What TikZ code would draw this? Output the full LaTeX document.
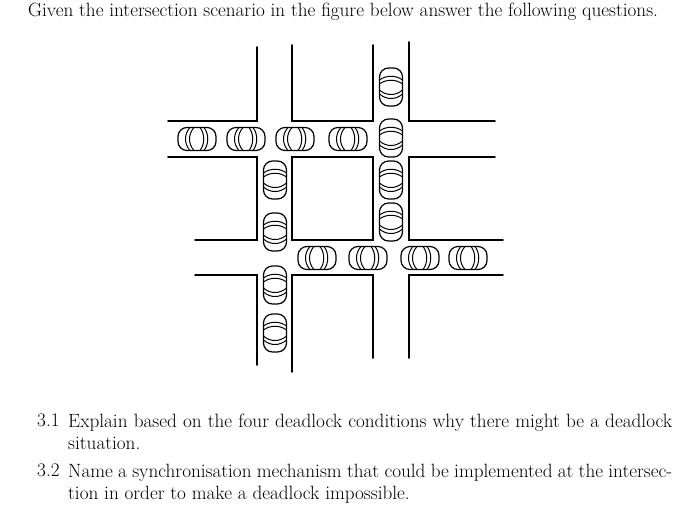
\documentclass[tikz,border=0pt]{standalone}
\begin{document}
\begin{tikzpicture}[x=1pt,y=-1pt,
  road/.style={line width=1.6pt,line cap=round},
  carbody/.style={line width=1.2pt,rounded corners=9pt},
  txt/.style={font=\fontsize{19.2}{21.5}\selectfont,inner sep=0pt}]
\useasboundingbox (0,0) rectangle (700,509);
\tikzset{car/.pic={
  \draw[carbody] (-19,-11.5) rectangle (19,11.5);
  \draw[line width=1pt] (-7,-11.5) .. controls (-13,-5) and (-13,5) .. (-7,11.5);
  \draw[line width=1pt] (-3,-11.5) .. controls (-9,-5) and (-9,5) .. (-3,11.5);
  \draw[line width=1pt] (7,-11.5) .. controls (12,-5) and (12,5) .. (7,11.5);
  \draw[line width=1pt] (3,-11.5) .. controls (8,-5) and (8,5) .. (3,11.5);
}}
\node[txt,anchor=west] (title) at (28,12) {Given the intersection scenario in the figure below answer the following questions.};
% roads
\draw[road] (257,47) -- (257,121) -- (168,121);
\draw[road] (292,45) -- (292,121) -- (373,121) -- (373,45);
\draw[road] (409,42) -- (409,121) -- (495,121);
\draw[road] (168,157) -- (257,157) -- (257,240) -- (195,240);
\draw[road] (292,157) rectangle (373,240);
\draw[road] (495,157) -- (409,157) -- (409,240) -- (503,240);
\draw[road] (195,275) -- (257,275) -- (257,365);
\draw[road] (292,372) -- (292,275) -- (373,275) -- (373,358);
\draw[road] (409,358) -- (409,275) -- (503,275);
% cars
\foreach \x in {197,246,295,348} \pic at (\x,139) {car};
\foreach \x in {317,368,420,468} \pic at (\x,258) {car};
\foreach \y in {87,138,180,222} \pic[rotate=90] at (391,\y) {car};
\foreach \y in {180,232,285,333} \pic[rotate=90] at (275,\y) {car};
% questions
\node[txt,anchor=north west] (n1) at (37,414) {3.1};
\node[txt,anchor=north west,text width=604pt,align=justify] (q1) at (68,414) {Explain based on the four deadlock conditions why there might be a deadlock situation.};
\node[txt,anchor=north west] (n2) at (37,464) {3.2};
\node[txt,anchor=north west,text width=604pt,align=justify] (q2) at (68,464) {Name a synchronisation mechanism that could be implemented at the intersection in order to make a deadlock impossible.};
\end{tikzpicture}
\end{document}
